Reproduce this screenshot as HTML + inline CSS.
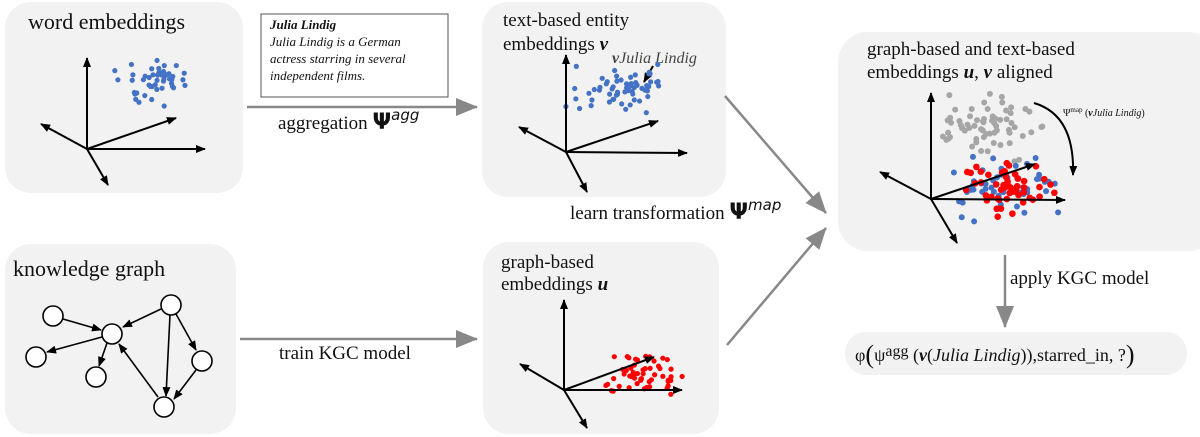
<!DOCTYPE html>
<html><head><meta charset="utf-8"><style>
html,body{margin:0;padding:0;background:#fff;}
svg{display:block;}
text{font-family:"Liberation Serif",serif;fill:#111;}
</style></head><body>
<svg id="s" width="1200" height="437" viewBox="0 0 1200 437" xmlns="http://www.w3.org/2000/svg">
<defs>
<marker id="ab" markerWidth="10" markerHeight="8" refX="9" refY="4" orient="auto" markerUnits="userSpaceOnUse"><path d="M0,0 L10,4 L0,8 z" fill="#000"/></marker>
<marker id="ag" markerWidth="22" markerHeight="18" refX="21" refY="9" orient="auto" markerUnits="userSpaceOnUse"><path d="M0,0 L22,9 L0,18 z" fill="#888"/></marker>
</defs>
<rect x="5" y="2" width="238" height="191" rx="26" fill="#f2f2f2"/>
<rect x="482" y="2" width="244" height="195" rx="26" fill="#f2f2f2"/>
<rect x="5" y="244" width="231" height="190" rx="26" fill="#f2f2f2"/>
<rect x="483" y="242" width="236" height="192" rx="26" fill="#f2f2f2"/>
<rect x="838" y="32" width="380" height="219" rx="30" fill="#f2f2f2"/>
<rect x="845" y="332" width="342" height="43" rx="21" fill="#f2f2f2"/>

<text x="28" y="29" font-size="22">word embeddings</text>
<text x="503" y="26" font-size="19">text-based entity</text>
<text x="503" y="50" font-size="19">embeddings <tspan font-weight="bold" font-style="italic">v</tspan></text>
<text x="612" y="63" font-size="16" font-style="italic" style="fill:#444"><tspan font-weight="bold">v</tspan>Julia Lindig</text>
<line x1="653" y1="66" x2="644" y2="82" stroke="#000" stroke-width="2" marker-end="url(#ab)"/>
<text x="13" y="276" font-size="22">knowledge graph</text>
<text x="501" y="268" font-size="19">graph-based</text>
<text x="501" y="290" font-size="19">embeddings <tspan font-weight="bold" font-style="italic">u</tspan></text>
<text x="867" y="55" font-size="19">graph-based and text-based</text>
<text x="867" y="78" font-size="19">embeddings <tspan font-weight="bold" font-style="italic">u</tspan>, <tspan font-weight="bold" font-style="italic">v</tspan> aligned</text>

<rect x="261" y="14" width="187" height="83" fill="#fff" stroke="#555" stroke-width="1"/>
<text x="270" y="29" font-size="13" font-style="italic" font-weight="bold">Julia Lindig</text>
<text x="270" y="46" font-size="13" font-style="italic">Julia Lindig is a German</text>
<text x="270" y="63" font-size="13" font-style="italic">actress starring in several</text>
<text x="270" y="80" font-size="13" font-style="italic">independent films.</text>

<g stroke="#888" stroke-width="2.5" fill="none">
<line x1="247" y1="107" x2="477" y2="107" marker-end="url(#ag)"/>
<line x1="240" y1="339" x2="477" y2="339" marker-end="url(#ag)"/>
<line x1="725" y1="96" x2="826" y2="213" marker-end="url(#ag)"/>
<line x1="727" y1="345" x2="826" y2="228" marker-end="url(#ag)"/>
<line x1="1005" y1="255" x2="1005" y2="327" marker-end="url(#ag)"/>
</g>
<text x="278" y="129" font-size="19">aggregation <tspan font-family="DejaVu Sans" font-weight="bold" font-size="22">Ψ</tspan><tspan font-family="DejaVu Sans" font-style="italic" font-size="15" dy="-9">agg</tspan></text>
<text x="279" y="359" font-size="19">train KGC model</text>
<text x="570" y="219" font-size="19">learn transformation <tspan font-family="DejaVu Sans" font-weight="bold" font-size="22">Ψ</tspan><tspan font-family="DejaVu Sans" font-style="italic" font-size="15" dy="-9">map</tspan></text>
<text x="1010" y="284" font-size="19">apply KGC model</text>
<text x="855" y="361" font-size="18">φ<tspan font-size="26" dy="2">(</tspan><tspan dy="-2">ψ</tspan><tspan dy="-5" font-size="16">agg</tspan><tspan dy="5"> (</tspan><tspan font-weight="bold" font-style="italic">v</tspan>(<tspan font-style="italic">Julia Lindig</tspan>)),starred_in,  ?<tspan font-size="26" dy="2">)</tspan></text>

<path d="M1034,103 Q1075,115 1073,175" stroke="#000" stroke-width="2" fill="none" marker-end="url(#ab)"/>
<text x="1063" y="116" font-size="10">Ψ<tspan font-size="7" dy="-4">map</tspan><tspan dy="4"> (</tspan><tspan font-style="italic"><tspan font-weight="bold">v</tspan>Julia Lindig</tspan>)</text>

<g id="dots"></g>

<g stroke="#000" stroke-width="2" marker-end="url(#ab)">
<line x1="87" y1="149" x2="87" y2="58"/><line x1="87" y1="149" x2="205" y2="149"/><line x1="87" y1="149" x2="176" y2="118"/><line x1="87" y1="149" x2="41" y2="124"/><line x1="87" y1="149" x2="108" y2="185"/>
<line x1="566" y1="152" x2="566" y2="55"/><line x1="566" y1="152" x2="687" y2="153"/><line x1="566" y1="152" x2="658" y2="121"/><line x1="566" y1="152" x2="519" y2="127"/><line x1="566" y1="152" x2="587" y2="192"/>
<line x1="564" y1="390" x2="564" y2="300"/><line x1="564" y1="390" x2="682" y2="390"/><line x1="564" y1="390" x2="654" y2="357"/><line x1="564" y1="390" x2="520" y2="364"/><line x1="564" y1="390" x2="587" y2="428"/>
<line x1="931" y1="199" x2="931" y2="93"/><line x1="931" y1="199" x2="1065" y2="200"/><line x1="931" y1="199" x2="1035" y2="164"/><line x1="931" y1="199" x2="880" y2="172"/><line x1="931" y1="199" x2="957" y2="243"/>
</g>

<g stroke="#000" stroke-width="1.6" marker-end="url(#ab)">
<line x1="63" y1="319" x2="101" y2="330"/>
<line x1="161" y1="309" x2="123" y2="327"/>
<line x1="102" y1="337" x2="47" y2="352"/>
<line x1="107" y1="343" x2="99" y2="366"/>
<line x1="170" y1="315" x2="166" y2="396"/>
<line x1="176" y1="314" x2="196" y2="350"/>
<line x1="196" y1="370" x2="174" y2="399"/>
<line x1="158" y1="397" x2="119" y2="344"/>
</g>
<g fill="#fff" stroke="#000" stroke-width="1.6">
<ellipse cx="53" cy="316" rx="10" ry="10"/><ellipse cx="112" cy="334" rx="10" ry="10"/><ellipse cx="171" cy="305" rx="10" ry="10"/><ellipse cx="36" cy="357" rx="10" ry="10"/><ellipse cx="96" cy="377" rx="10" ry="10"/><ellipse cx="202" cy="361" rx="10" ry="10"/><ellipse cx="164" cy="407" rx="10" ry="10"/>
</g>
</svg>
<script>
var seed=11;function r(){seed=(seed*16807)%2147483647;return seed/2147483647;}
function gs(){return (r()+r()-1);}
var g=document.getElementById('dots'),ns='http://www.w3.org/2000/svg';
function cl(n,x0,x1,y0,y1,c,rad){var cx=(x0+x1)/2,cy=(y0+y1)/2,hw=(x1-x0)/2,hh=(y1-y0)/2;for(var i=0;i<n;i++){var e=document.createElementNS(ns,'circle');e.setAttribute('cx',cx+gs()*hw);e.setAttribute('cy',cy+gs()*hh);e.setAttribute('r',rad||2.6);e.setAttribute('fill',c);g.appendChild(e);}}
cl(50,114,192,55,108,'#4472c4');
cl(60,560,674,64,117,'#4472c4');
cl(55,582,692,350,400,'#ff0000');
cl(65,925,1052,90,162,'#a6a6a6',3);
cl(50,945,1072,153,224,'#4472c4',3);
cl(55,955,1062,158,217,'#ff0000',3.3);
</script>
</body></html>
